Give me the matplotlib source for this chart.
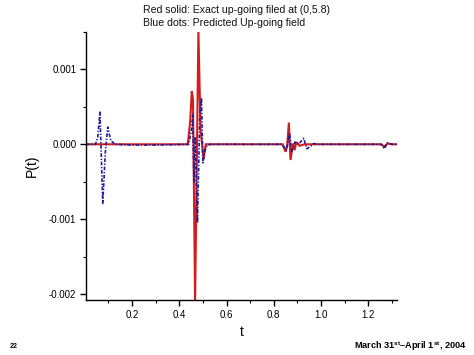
import matplotlib
matplotlib.use("Agg")
import matplotlib.pyplot as plt
from matplotlib.ticker import MultipleLocator, FixedLocator

plt.rcParams['font.family'] = ['Liberation Sans', 'DejaVu Sans']
plt.rcParams['mathtext.fontset'] = 'custom'
plt.rcParams['mathtext.rm'] = 'Liberation Sans'
plt.rcParams['mathtext.bf'] = 'Liberation Sans:bold'

# Red solid: exact up-going field
red_t = [0.005, 0.20, 0.30, 0.436, 0.446, 0.453, 0.458, 0.467, 0.481, 0.490, 0.503,
         0.512, 0.60, 0.838, 0.850, 0.857, 0.864, 0.871, 0.881, 0.888, 0.896, 0.909,
         0.93, 1.255, 1.268, 1.282, 1.30, 1.33]
red_v = [0, 0, 0, 0, 0.0003, 0.00071, 0.0006, -0.0021, 0.00151, 0.0002, -0.0002,
         0, 0, 0, -0.0001, -0.00002, 0.00029, -0.00021, 0.00001, -0.00008, 0.00003, -0.00002,
         0, 0, -0.00003, 0.00001, 0, 0]

# Blue dots: predicted up-going field
blue_t = [0.005, 0.045, 0.055, 0.064, 0.076, 0.087, 0.097, 0.11, 0.128, 0.2, 0.3,
          0.44, 0.452, 0.457, 0.462, 0.467, 0.477, 0.487, 0.494, 0.500, 0.507, 0.515,
          0.53, 0.835, 0.853, 0.867, 0.876, 0.89, 0.905, 0.927, 0.94, 0.955, 0.969,
          0.99, 1.255, 1.268, 1.282, 1.30, 1.33]
blue_v = [0, 0, 0.0001, 0.00043, -0.00079, -0.0001, 0.00023, 0.00005, 0, -0.00001, -0.00001,
          0, 0.0002, 0.0004, -0.0005, 0.0001, -0.00105, 0.0004, 0.00062, -0.00025, -0.0001, -0.00003,
          0, 0, -0.00008, 0.00015, -0.0001, 0.00003, 0.0, 0.00008, -0.00006, -0.00003, 0.00001,
          0, 0, -0.00006, 0.00002, 0, 0]

x_ticks = [0.2, 0.4, 0.6, 0.8, 1.0, 1.2]
x_ticklabels = ['0.2', '0.4', '0.6', '0.8', '1.0', '1.2']
y_ticks = [0.001, 0.0, -0.001, -0.002]
y_ticklabels = ['0.001', '0.000', '-0.001', '-0.002']

fig = plt.figure(figsize=(4.74, 3.55), dpi=100)
ax = fig.add_axes([86/474, 1-300/355, (397-86)/474, (300-32)/355])

ax.plot(red_t, red_v, color='#d41c1c', lw=1.5, solid_joinstyle='miter')
ax.plot(blue_t, blue_v, color='#1f1a9a', lw=1.2, linestyle=(0, (2.2, 1, 0.8, 1)))

ax.set_xlim(0.005, 1.322)
ax.set_ylim(-0.00208, 0.0015)

for s in ['top', 'right']:
    ax.spines[s].set_visible(False)
ax.spines['left'].set_linewidth(1.0)
ax.spines['bottom'].set_linewidth(1.0)

ax.xaxis.set_major_locator(FixedLocator(x_ticks))
ax.set_xticklabels(x_ticklabels)
ax.xaxis.set_minor_locator(MultipleLocator(0.1))
ax.yaxis.set_major_locator(FixedLocator(y_ticks))
ax.set_yticklabels(y_ticklabels)
ax.yaxis.set_minor_locator(MultipleLocator(0.0005))
ax.tick_params(which='major', direction='out', length=4, width=1, labelsize=7, pad=3)
ax.tick_params(which='minor', direction='out', length=2.5, width=0.8)

ax.set_xlabel('t', fontsize=10, labelpad=4)
ax.set_ylabel('P(t)', fontsize=10, labelpad=7)

fig.text(143/474, 1-10/355, 'Red solid: Exact up-going filed at (0,5.8)', fontsize=7.6,
         ha='left', va='center', color='#111111')
fig.text(143/474, 1-23/355, 'Blue dots: Predicted Up-going field', fontsize=7.6,
         ha='left', va='center', color='#111111')

fig.text(10/474, 1-347/355, '22', fontsize=5, fontweight='bold', ha='left', va='center')
fig.text(466/474, 1-346/355, r'March 31$^{\mathbf{st}}$–April 1$^{\mathbf{st}}$, 2004',
         fontsize=6.6, fontweight='bold', ha='right', va='center')

fig.savefig('out.png', dpi=100)
